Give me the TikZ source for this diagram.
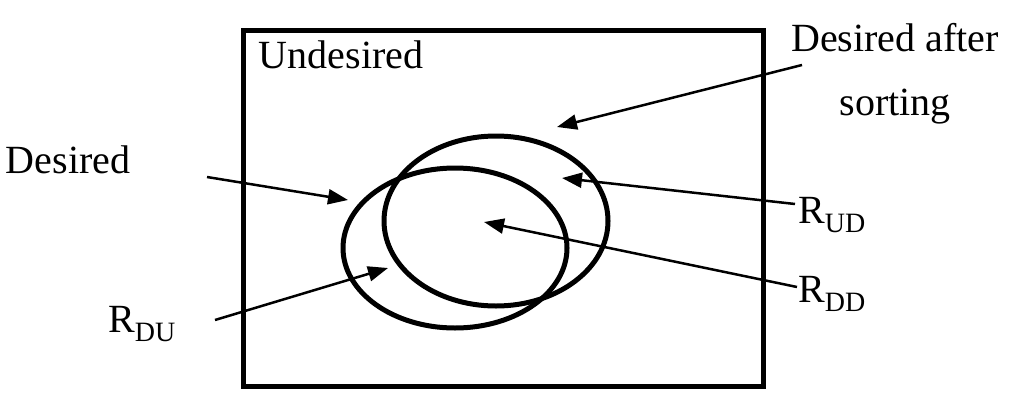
\documentclass[tikz,border=0pt]{standalone}
\usepackage{fontspec}
\setmainfont{Liberation Serif}
\usetikzlibrary{arrows.meta}
\begin{document}
\begin{tikzpicture}[x=1pt,y=-1pt,
  lbl/.style={font=\fontsize{40}{46}\selectfont, inner sep=0pt},
  arr/.style={line width=2.5pt,-{Triangle[length=20pt,width=15pt]}},
  ell/.style={line width=5pt}]
\useasboundingbox (0,0) rectangle (1009,402);
\draw[line width=5pt] (243,30) rectangle (763,386);
\draw[ell] (455,248) ellipse [x radius=112, y radius=80];
\draw[ell] (496,221) ellipse [x radius=112, y radius=85];
\node[lbl] (und) at (341,55) {Undesired};
\node[lbl,align=center] (das) at (895,74) {Desired after\\[18pt]sorting};
\node[lbl] (des) at (68,160) {Desired};
\node[lbl,anchor=west] (rud) at (798,215) {R\textsubscript{UD}};
\node[lbl,anchor=west] (rdd) at (798,294) {R\textsubscript{DD}};
\node[lbl,anchor=west] (rdu) at (108,324) {R\textsubscript{DU}};
\coordinate (a1) at (557,127);
\coordinate (a2) at (348,200);
\coordinate (a3) at (562,178);
\coordinate (a4) at (484,222);
\coordinate (a5) at (388,268);
\draw[arr] (802,65) -- (a1);
\draw[arr] (207,177) -- (a2);
\draw[arr] (795,204) -- (a3);
\draw[arr] (797,287) -- (a4);
\draw[arr] (215,320) -- (a5);
\end{tikzpicture}
\end{document}
